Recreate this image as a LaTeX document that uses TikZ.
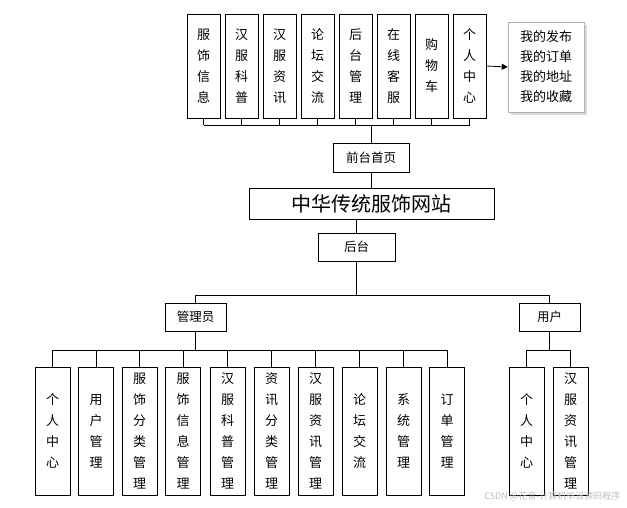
\documentclass[tikz,border=0pt]{standalone}
\usepackage{fontspec}
\setmainfont{Noto Sans CJK SC}
\usetikzlibrary{arrows.meta,shadows}
\begin{document}
\begin{tikzpicture}[x=1pt,y=-1pt,
 bx/.style={draw,thick,minimum width=#1,inner sep=0pt,font=\fontsize{12.5}{15}\selectfont,align=center},
 vb/.style={draw,thick,inner sep=0pt,font=\fontsize{13}{21}\selectfont,align=center,minimum width=34pt},
 ln/.style={thick}]
\useasboundingbox (0,0) rectangle (627,507);
% top row
\foreach \n/\x/\t in {t1/203.5/服\\饰\\信\\息, t2/241.5/汉\\服\\科\\普, t3/279.5/汉\\服\\资\\讯, t4/317.5/论\\坛\\交\\流, t5/355.5/后\\台\\管\\理, t6/393.5/在\\线\\客\\服, t7/431.5/购\\物\\车, t8/469.5/个\\人\\中\\心}
  \node[vb,minimum width=33pt,minimum height=104pt] (\n) at (\x,66) {\t};
\node[draw=gray!60,fill=white,drop shadow={opacity=0.3},minimum width=76pt,minimum height=90pt,align=left,font=\fontsize{13}{20}\selectfont,inner sep=2pt] (my) at (546,67) {我的发布\\我的订单\\我的地址\\我的收藏};
\draw[ln,-{Triangle[length=6pt,width=6pt]}] (t8.east) -- (my.west);
\node[bx=76pt,minimum height=29pt] (qt) at (371,157.5) {前台首页};
\node[draw,thick,minimum width=245pt,minimum height=31pt,font=\fontsize{20}{22}\selectfont] (site) at (371.5,203.5) {中华传统服饰网站};
\node[bx=77pt,minimum height=28pt] (ht) at (356.5,247) {后台};
\coordinate (b1) at (371,125);
\draw[ln] (t1.south|-b1) -- (t8.south|-b1);
\foreach \n in {t1,t2,t3,t4,t5,t6,t7,t8} \draw[ln] (\n.south) -- (\n.south|-b1);
\draw[ln] (b1) -- (qt.north);
\draw[ln] (qt.south) -- (qt.south|-site.north);
\draw[ln] (ht.north|-site.south) -- (ht.north);
% second level
\node[bx=61pt,minimum height=28pt] (gl) at (195.5,317) {管理员};
\node[bx=61pt,minimum height=28pt] (yh) at (549.5,317) {用户};
\coordinate (b2) at (356.5,295);
\draw[ln] (ht.south) -- (b2);
\draw[ln] (gl.north|-b2) -- (yh.north|-b2);
\draw[ln] (gl.north|-b2) -- (gl.north);
\draw[ln] (yh.north|-b2) -- (yh.north);
% bottom
\foreach \n/\x/\t in {a1/52.5/个\\人\\中\\心, a2/96/用\\户\\管\\理, a3/139.5/服\\饰\\分\\类\\管\\理, a4/183/服\\饰\\信\\息\\管\\理, a5/227.5/汉\\服\\科\\普\\管\\理, a6/271.5/资\\讯\\分\\类\\管\\理, a7/315.5/汉\\服\\资\\讯\\管\\理, a8/359.5/论\\坛\\交\\流, a9/403.5/系\\统\\管\\理, a10/447/订\\单\\管\\理, u1/526.5/个\\人\\中\\心, u2/570.5/汉\\服\\资\\讯\\管\\理}
  \node[vb,minimum width=35pt,minimum height=128pt] (\n) at (\x,431) {\t};
\coordinate (b3) at (195.5,350);
\draw[ln] (gl.south) -- (b3);
\draw[ln] (a1.north|-b3) -- (a10.north|-b3);
\foreach \n in {a1,a2,a3,a4,a5,a6,a7,a8,a9,a10} \draw[ln] (\n.north|-b3) -- (\n.north);
\coordinate (b4) at (549.5,350);
\draw[ln] (yh.south) -- (b4);
\draw[ln] (u1.north|-b4) -- (u2.north|-b4);
\foreach \n in {u1,u2} \draw[ln] (\n.north|-b4) -- (\n.north);
\node[text=gray!50,font=\fontsize{9}{10}\selectfont,anchor=east] (wm) at (624,496) {CSDN @花音-计算机毕设源码程序};
\end{tikzpicture}
\end{document}
